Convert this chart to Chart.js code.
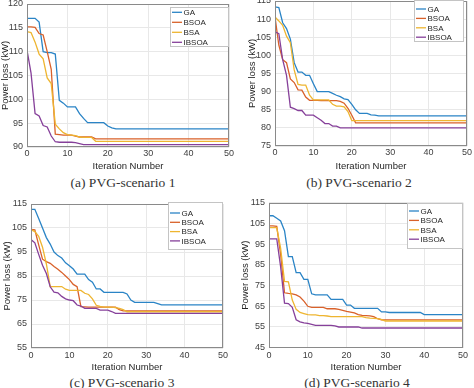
<!DOCTYPE html>
<html lang="en">
<head>
<meta charset="UTF-8" />
<title>Power loss convergence</title>
<script src="https://cdn.jsdelivr.net/npm/chart.js"></script>
<style>
  body { margin: 0; background: #fff; width: 474px; height: 388px; position: relative; overflow: hidden; }
  canvas { position: absolute; }
  .caption {
    position: absolute;
    font-family: "Liberation Serif", "DejaVu Serif", serif;
    font-weight: 400;
    font-size: 13.5px;
    color: #333;
    transform: translate(-50%, -50%);
    white-space: nowrap;
  }
</style>
</head>
<body>
<canvas id="chartA"></canvas>
<canvas id="chartB"></canvas>
<canvas id="chartC"></canvas>
<canvas id="chartD"></canvas>
<div class="caption" style="left:123px; top:183px">(a) PVG-scenario 1</div>
<div class="caption" style="left:359px; top:183px">(b) PVG-scenario 2</div>
<div class="caption" style="left:122px; top:383px">(c) PVG-scenario 3</div>
<div class="caption" style="left:357px; top:383px">(d) PVG-scenario 4</div>
<script>
const iterations = [0, 1, 2, 3, 4, 5, 6, 7, 8, 9, 10, 11, 12, 13, 14, 15, 16, 17, 18, 19, 20,
  21, 22, 23, 24, 25, 26, 27, 28, 29, 30, 31, 32, 33, 34, 35, 36, 37, 38, 39, 40,
  41, 42, 43, 44, 45, 46, 47, 48, 49, 50];
const seriesNames = ["GA", "BSOA", "BSA", "IBSOA"];
const seriesColors = ["#2a84c6", "#d9612a", "#eeb530", "#86409a"];

// scenario 1
const gaA = [117, 117, 117, 116.2, 110, 109.8, 109.8, 109.5, 99.8, 99.2,
  98.4, 98.4, 98.4, 97, 96, 95.1, 95.1, 95.1, 95.1, 95.1,
  94.4, 94, 93.8, 93.8, 93.8, 93.8, 93.8, 93.8, 93.8, 93.8,
  93.8, 93.8, 93.8, 93.8, 93.8, 93.8, 93.8, 93.8, 93.8, 93.8,
  93.8, 93.8, 93.8, 93.8, 93.8, 93.8, 93.8, 93.8, 93.8, 93.8, 93.8];
const bsoaA = [115.2, 115.2, 115.1, 113.8, 113.5, 110, 106.3, 92.7, 92.6, 92.5,
  92.5, 92.5, 92.3, 92.1, 92.1, 92.1, 92.1, 91.7, 91.7, 91.7,
  91.7, 91.7, 91.7, 91.7, 91.7, 91.7, 91.7, 91.7, 91.7, 91.7,
  91.7, 91.7, 91.7, 91.7, 91.7, 91.7, 91.7, 91.7, 91.7, 91.7,
  91.7, 91.7, 91.7, 91.7, 91.7, 91.7, 91.7, 91.7, 91.7, 91.7, 91.7];
const bsaA = [114.2, 114, 112, 109.5, 108.5, 104.5, 103.3, 94.8, 93.8, 93,
  92.6, 92.5, 92.4, 92.1, 92, 92, 92, 91.2, 91.2, 91.2,
  91.2, 91.2, 91.2, 91.2, 91.2, 91.2, 91.2, 91.2, 91.2, 91.2,
  91.2, 91.2, 91.2, 91.2, 91.2, 91.2, 91.2, 91.2, 91.2, 91.2,
  91.2, 91.2, 91.2, 91.2, 91.2, 91.2, 91.2, 91.2, 91.2, 91.2, 91.2];
const ibsoaA = [110.3, 105.5, 97, 96.5, 94.5, 94.2, 92.3, 91.1, 91, 91,
  91, 91, 90.9, 90.7, 90.5, 90.5, 90.5, 90.5, 90.5, 90.5,
  90.5, 90.5, 90.5, 90.5, 90.5, 90.5, 90.5, 90.5, 90.5, 90.5,
  90.5, 90.5, 90.5, 90.5, 90.5, 90.5, 90.5, 90.5, 90.5, 90.5,
  90.5, 90.5, 90.5, 90.5, 90.5, 90.5, 90.5, 90.5, 90.5, 90.5, 90.5];

// scenario 2
const gaB = [113.4, 113.2, 109, 107.4, 104.5, 98, 95.4, 95.4, 94.5, 94.5,
  92.2, 90, 90, 90, 90, 89.5, 89, 88.6, 88, 87.8,
  86.5, 85, 84, 84, 84, 83.6, 83.5, 83.3, 83.3, 83.3,
  83.3, 83.3, 83.3, 83.3, 83.3, 83.3, 83.3, 83.3, 83.3, 83.3,
  83.3, 83.3, 83.3, 83.3, 83.3, 83.3, 83.3, 83.3, 83.3, 83.3, 83.3];
const bsoaB = [110.6, 102.8, 98.8, 98, 93.5, 92.5, 90.5, 90.4, 88.5, 87.6,
  87.6, 87.6, 87.5, 87.5, 87.5, 87.5, 87.5, 87.3, 86.8, 85.4,
  83.5, 81.4, 81.4, 81.4, 81.4, 81.4, 81.4, 81.4, 81.4, 81.4,
  81.4, 81.4, 81.4, 81.4, 81.4, 81.4, 81.4, 81.4, 81.4, 81.4,
  81.4, 81.4, 81.4, 81.4, 81.4, 81.4, 81.4, 81.4, 81.4, 81.4, 81.4];
const bsaB = [110.6, 109.5, 108.3, 105.3, 103.5, 96, 92, 91.8, 91.8, 89,
  87.7, 87.7, 87.7, 87.7, 87.7, 86.5, 86, 86, 85.8, 84.5,
  82, 82, 82, 82, 82, 82, 82, 82, 82, 82,
  82, 82, 82, 82, 82, 82, 82, 82, 82, 82,
  82, 82, 82, 82, 82, 82, 82, 82, 82, 82, 82];
const ibsoaB = [106.5, 106, 98.8, 94.5, 85.7, 85.3, 84.8, 84.8, 83.5, 83.5,
  83.5, 82.8, 82.1, 81.2, 81.2, 80.5, 80.5, 80, 80, 80,
  80, 80, 80, 80, 80, 80, 80, 80, 80, 80,
  80, 80, 80, 80, 80, 80, 80, 80, 80, 80,
  80, 80, 80, 80, 80, 80, 80, 80, 80, 80, 80];

// scenario 3
const gaC = [112.8, 112.8, 109, 105, 101, 98.3, 95, 93.5, 92.5, 90.5,
  89.3, 87.9, 85.8, 85.8, 85.8, 83.5, 82.4, 79.6, 79.6, 78.2,
  78.2, 78.2, 78.2, 78.2, 78.2, 77.5, 75, 74, 74, 74,
  74, 74, 74, 73.5, 73, 73, 73, 73, 73, 73,
  73, 73, 73, 73, 73, 73, 73, 73, 73, 73, 73];
const bsoaC = [104.4, 104.2, 98, 92, 91, 90.3, 89, 87.8, 86.5, 85,
  83.5, 81.5, 80.6, 72.2, 72.1, 72, 72, 72, 72, 72,
  72, 72, 72, 71, 70.5, 70.5, 70.5, 70.5, 70.5, 70.5,
  70.5, 70.5, 70.5, 70.5, 70.5, 70.5, 70.5, 70.5, 70.5, 70.5,
  70.5, 70.5, 70.5, 70.5, 70.5, 70.5, 70.5, 70.5, 70.5, 70.5, 70.5];
const bsaC = [104.3, 103.5, 101.5, 97, 90, 80.6, 80.6, 80.6, 80.6, 79.5,
  79, 79, 79, 79, 77.8, 77.3, 75.5, 72.8, 72.3, 72,
  72, 72, 71.8, 71.5, 71, 70.1, 70.1, 70.1, 70.1, 70.1,
  70.1, 70.1, 70.1, 70.1, 70.1, 70.1, 70.1, 70.1, 70.1, 70.1,
  70.1, 70.1, 70.1, 70.1, 70.1, 70.1, 70.1, 70.1, 70.1, 70.1, 70.1];
const ibsoaC = [100.2, 98.8, 94, 89.5, 86, 80.5, 78.3, 78, 76.5, 75.5,
  75, 74.7, 72.9, 72.5, 71.5, 71.5, 71.5, 71.5, 70.8, 70.8,
  70.8, 70.2, 69.4, 69.4, 69.4, 69.4, 69.4, 69.4, 69.4, 69.4,
  69.4, 69.4, 69.4, 69.4, 69.4, 69.4, 69.4, 69.4, 69.4, 69.4,
  69.4, 69.4, 69.4, 69.4, 69.4, 69.4, 69.4, 69.4, 69.4, 69.4, 69.4];

// scenario 4
const gaD = [108.7, 108.7, 107.5, 106.2, 101.5, 89, 89, 81.2, 81.2, 78,
  78, 71, 70.5, 70.5, 70.5, 70.5, 68.3, 68.3, 68.3, 68.3,
  65.6, 65.6, 64, 64, 64, 64, 64, 64, 64, 62.3,
  62.3, 62, 62, 62, 62, 62, 62, 62, 62, 62,
  61, 61, 61, 61, 61, 61, 61, 61, 61, 61, 61];
const bsoaD = [103.8, 103.8, 103.6, 90, 71.5, 71.2, 71, 70.5, 69.5, 67.5,
  65, 64.5, 64.5, 64.5, 64.5, 63.8, 63.8, 63.8, 63.5, 63,
  62.5, 62.2, 61.8, 61, 60.6, 60.5, 60.4, 60, 59, 58.5,
  58.4, 58.4, 58.4, 58.4, 58.4, 58.4, 58.4, 58.4, 58.4, 58.4,
  58.4, 58.4, 58.4, 58.4, 58.4, 58.4, 58.4, 58.4, 58.4, 58.4, 58.4];
const bsaD = [103, 103, 103, 93, 77, 76.8, 68, 63.5, 62, 61.5,
  61, 60.8, 60.8, 60.5, 60.5, 60.3, 60, 60, 60, 60,
  60, 60, 60, 60, 60, 59.5, 59.3, 59.2, 59, 58.5,
  57.9, 57.9, 57.9, 57.9, 57.9, 57.9, 57.9, 57.9, 57.9, 57.9,
  57.9, 57.9, 57.9, 57.9, 57.9, 57.9, 57.9, 57.9, 57.9, 57.9, 57.9];
const ibsoaD = [97.5, 97.5, 97.5, 84, 66.5, 66.3, 64.5, 58.5, 57.5, 57,
  56.7, 56.3, 55.8, 55.8, 55.8, 55.8, 55.8, 55.5, 55, 55,
  55, 55, 55, 55, 54.5, 54.5, 54.5, 54.5, 54.5, 54.5,
  54.5, 54.5, 54.5, 54.5, 54.5, 54.5, 54.5, 54.5, 54.5, 54.5,
  54.5, 54.5, 54.5, 54.5, 54.5, 54.5, 54.5, 54.5, 54.5, 54.5, 54.5];

// y axis limits [min, max, step]
const yLimitsA = [90, 120, 5];
const yLimitsB = [75, 115, 5];
const yLimitsC = [55, 115, 10];
const yLimitsD = [45, 115, 10];

const xTitle = "Iteration Number";
const yTitle = "Power loss (kW)";

const FONT = '"Liberation Sans", Helvetica, Arial, sans-serif';

// matlab-ish box, axis titles and legend, drawn on top of the plot area
const boxLegend = {
  id: "boxLegend",
  afterDatasetsDraw(chart, args, opts) {
    const { ctx, chartArea: a } = chart;
    ctx.save();
    ctx.strokeStyle = "#8a8a8a";
    ctx.lineWidth = 1;
    ctx.strokeRect(Math.round(a.left) + 0.5, Math.round(a.top) + 0.5,
      Math.round(a.right - a.left) - 1, Math.round(a.bottom - a.top) - 1);

    // axis titles
    ctx.fillStyle = "#262626";
    ctx.font = "9.5px " + FONT;
    ctx.textAlign = "center";
    ctx.textBaseline = "middle";
    ctx.fillText(xTitle, (a.left + a.right) / 2, opts.xTitleY);
    ctx.save();
    ctx.translate(opts.yTitleX, (a.top + a.bottom) / 2);
    ctx.rotate(-Math.PI / 2);
    ctx.fillText(yTitle, 0, 0);
    ctx.restore();

    // legend
    const L = opts.box;
    ctx.fillStyle = "#fff";
    ctx.fillRect(L.x, L.y, L.w, L.h);
    ctx.strokeStyle = "#c4c4c4";
    ctx.strokeRect(L.x + 0.5, L.y + 0.5, L.w - 1, L.h - 1);
    ctx.font = "8px " + FONT;
    ctx.textAlign = "left";
    chart.data.datasets.forEach((ds, i) => {
      const y = L.row0 + i * L.rowH;
      ctx.strokeStyle = ds.borderColor;
      ctx.lineWidth = 1.3;
      ctx.beginPath();
      ctx.moveTo(L.x + 2, y);
      ctx.lineTo(L.x + 12, y);
      ctx.stroke();
      ctx.fillStyle = "#262626";
      ctx.fillText(ds.label, L.x + 13.5, y + 0.5);
    });
    ctx.restore();
  }
};

function makeChart(p) {
  const canvas = document.getElementById(p.id);
  canvas.width = p.w;
  canvas.height = p.h;
  canvas.style.left = p.left + "px";
  canvas.style.top = p.top + "px";

  return new Chart(canvas, {
    type: "line",
    data: {
      labels: iterations,
      datasets: seriesNames.map((name, i) => ({
        label: name,
        data: p.values[i],
        borderColor: seriesColors[i],
        borderWidth: 1.3,
        pointRadius: 0,
        tension: 0,
        fill: false,
        order: seriesNames.length - i
      }))
    },
    options: {
      responsive: false,
      animation: false,
      devicePixelRatio: 1,
      layout: { padding: { left: 0, top: p.area.top, right: p.w - p.area.right, bottom: 0 } },
      plugins: {
        legend: { display: false },
        tooltip: { enabled: false },
        boxLegend: { box: p.legend, xTitleY: p.xTitleY - p.top, yTitleX: p.yTitleX - p.left }
      },
      scales: {
        x: {
          type: "linear",
          min: 0,
          max: 50,
          grid: { color: "#e8e8e8", drawTicks: false },
          border: { display: false },
          ticks: { stepSize: 10, padding: p.xTickPad, color: "#404040", font: { family: FONT, size: 9 } },
          afterFit: (s) => {
            s.height = p.h - p.area.bottom;
            s.paddingLeft = 0;
            s.paddingRight = 0;
          }
        },
        y: {
          min: p.yLimits[0],
          max: p.yLimits[1],
          grid: { color: "#e8e8e8", drawTicks: false },
          border: { display: false },
          ticks: { stepSize: p.yLimits[2], padding: 4, color: "#404040", font: { family: FONT, size: 9 } },
          afterFit: (s) => {
            s.width = p.area.left;
            s.paddingTop = 0;
            s.paddingBottom = 0;
          }
        }
      }
    },
    plugins: [boxLegend]
  });
}

makeChart({
  id: "chartA", left: 0, top: 0, w: 237, h: 172,
  area: { left: 27, right: 229, top: 4, bottom: 147 },
  yLimits: yLimitsA, values: [gaA, bsoaA, bsaA, ibsoaA],
  xTickPad: 1, xTitleY: 166, yTitleX: 5,
  legend: { x: 170, y: 7, w: 59, h: 40, row0: 12.3, rowH: 10 }
});
makeChart({
  id: "chartB", left: 237, top: 0, w: 237, h: 172,
  area: { left: 38, right: 230, top: 1, bottom: 146 },
  yLimits: yLimitsB, values: [gaB, bsoaB, bsaB, ibsoaB],
  xTickPad: 1, xTitleY: 166, yTitleX: 252,
  legend: { x: 177, y: 0, w: 50, h: 42, row0: 9, rowH: 9.4 }
});
makeChart({
  id: "chartC", left: 0, top: 194, w: 237, h: 178,
  area: { left: 31, right: 223, top: 10, bottom: 154 },
  yLimits: yLimitsC, values: [gaC, bsoaC, bsaC, ibsoaC],
  xTickPad: 2.5, xTitleY: 367, yTitleX: 7.5,
  legend: { x: 168, y: 8, w: 55, h: 48, row0: 19, rowH: 9.3 }
});
makeChart({
  id: "chartD", left: 237, top: 194, w: 237, h: 178,
  area: { left: 32, right: 226, top: 8.7, bottom: 153.7 },
  yLimits: yLimitsD, values: [gaD, bsoaD, bsaD, ibsoaD],
  xTickPad: 2.5, xTitleY: 367, yTitleX: 245.3,
  legend: { x: 170, y: 9, w: 56, h: 46, row0: 17, rowH: 9.4 }
});
</script>
</body>
</html>
